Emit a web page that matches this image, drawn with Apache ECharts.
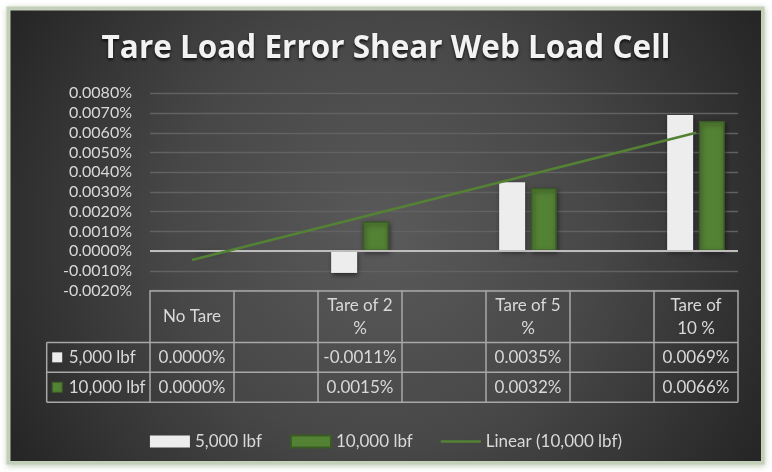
<!DOCTYPE html>
<html><head><meta charset="utf-8">
<script src="https://cdn.jsdelivr.net/npm/echarts@6/dist/echarts.min.js"></script>
<style>html,body{margin:0;padding:0;background:#fff}#c{width:772px;height:472px}</style>
</head><body><div id="c"></div>
<script>
// ---- data ----
const titleText = 'Tare Load Error Shear Web Load Cell';
const categories = ['No Tare', '', 'Tare of 2\n%', '', 'Tare of 5\n%', '', 'Tare of\n10 %'];
const seriesNames = ['5,000 lbf', '10,000 lbf', 'Linear (10,000 lbf)'];
const values5000 = [0, null, -0.0011, null, 0.0035, null, 0.0069];   // percent
const values10000 = [0, null, 0.0015, null, 0.0032, null, 0.0066];  // percent
const trendEnds = [-0.00044, 0.0060];                               // linear trend at first/last category
const yMin = -0.002, yMax = 0.008, yStep = 0.001;

// ---- styles ----
const FONT = 'Lato';
const TXT = '#d9d9d9';
const WHITE = '#ededed';
const GREEN = '#548235';
const GREEN_DARK = '#3a5c24';
const TABLE_LINE = '#a8a8a8';

const fmt = v => (Math.abs(v) < 1e-12 ? 0 : v).toFixed(4) + '%';
const trendData = categories.map((c, i) => i === 0 ? trendEnds[0] : (i === categories.length - 1 ? trendEnds[1] : null));

const chart = echarts.init(document.getElementById('c'), null, {renderer: 'canvas'});

const bgElements = [
  {type: 'rect', z: -100, silent: true,
   shape: {x: 6.5, y: 6.5, width: 758, height: 458},
   style: {fill: '#c3cfb8', shadowBlur: 6, shadowColor: 'rgba(110,140,90,0.45)', shadowOffsetY: 1}},
  {type: 'rect', z: -99, silent: true,
   shape: {x: 10.5, y: 10.5, width: 750.5, height: 450.5},
   style: {fill: {type: 'radial', x: 0.5, y: 0.5, r: 0.95, colorStops: [
     {offset: 0, color: '#5a5a5a'}, {offset: 0.5, color: '#474747'}, {offset: 1, color: '#262626'}]}}}
];

const option = {
  animation: false,
  textStyle: {fontFamily: FONT},
  title: {
    text: titleText, left: 'center', top: 28,
    textStyle: {fontFamily: 'Open Sans', fontSize: 31.5, fontWeight: 'bold', color: '#f2f2f2',
      textShadowColor: 'rgba(0,0,0,0.75)', textShadowBlur: 3, textShadowOffsetY: 2}
  },
  grid: {left: 150, right: 34, top: 93.3, bottom: 181.3, containLabel: false},
  legend: {
    data: [
      {name: seriesNames[0], icon: 'rect'},
      {name: seriesNames[1], icon: 'rect'},
      {name: seriesNames[2], icon: 'path://M0,0H40V2.6H0Z'}
    ],
    left: 'center', top: 428, itemWidth: 40, itemHeight: 12, itemGap: 28,
    textStyle: {color: TXT, fontSize: 17, fontFamily: FONT}
  },
  xAxis: {
    type: 'category', data: categories, boundaryGap: true,
    axisLine: {onZero: false, lineStyle: {color: TABLE_LINE, width: 1.5}},
    axisTick: {show: true, alignWithLabel: false, interval: 0, length: 111.5, lineStyle: {color: TABLE_LINE, width: 1.5}},
    axisLabel: {interval: 0, color: TXT, fontSize: 17, fontFamily: FONT, lineHeight: 23, margin: 26, verticalAlign: 'middle'},
    splitLine: {show: false}
  },
  yAxis: {
    type: 'value', min: yMin, max: yMax, interval: yStep,
    axisLine: {show: false}, axisTick: {show: false},
    axisLabel: {color: TXT, fontSize: 16, fontFamily: FONT, margin: 18, formatter: v => fmt(v)},
    splitLine: {lineStyle: {color: '#626262', width: 1.3}}
  },
  series: [
    {name: seriesNames[0], type: 'bar', data: values5000, barWidth: 26, barGap: '22%',
     itemStyle: {color: WHITE, shadowBlur: 5, shadowColor: 'rgba(0,0,0,0.55)', shadowOffsetY: 2, shadowOffsetX: 1},
     markLine: {silent: true, symbol: 'none', label: {show: false},
       lineStyle: {color: '#bdbdbd', width: 1.8, type: 'solid'}, data: [{yAxis: 0}]}},
    {name: seriesNames[1], type: 'bar', data: values10000, barWidth: 26,
     itemStyle: {color: GREEN, borderColor: GREEN_DARK, borderWidth: 1.5,
       shadowBlur: 5, shadowColor: 'rgba(0,0,0,0.55)', shadowOffsetY: 2, shadowOffsetX: 1}},
    {name: seriesNames[2], type: 'line', data: trendData, connectNulls: true, symbol: 'none',
     z: 5, lineStyle: {color: GREEN, width: 2.6}, itemStyle: {color: GREEN}}
  ],
  graphic: bgElements
};
chart.setOption(option);

function drawTable() {
  const rect = chart.getModel().getComponent('grid', 0).coordinateSystem.getRect();
  const top = rect.y + rect.height;
  const headerH = 51.7, rowH = 29.9;
  const keyLeft = 46.7;
  const right = rect.x + rect.width;
  const els = bgElements.slice();
  const lineStyle = {stroke: TABLE_LINE, lineWidth: 1.5};
  [1, 2, 3].forEach(k => {
    const y = top + headerH + (k - 1) * rowH;
    els.push({type: 'line', z: 10, silent: true, shape: {x1: keyLeft, y1: y, x2: right, y2: y}, style: lineStyle});
  });
  els.push({type: 'line', z: 10, silent: true,
    shape: {x1: keyLeft, y1: top + headerH, x2: keyLeft, y2: top + headerH + 2 * rowH}, style: lineStyle});
  const rows = [
    {name: seriesNames[0], vals: values5000, fill: WHITE, stroke: null},
    {name: seriesNames[1], vals: values10000, fill: GREEN, stroke: GREEN_DARK}
  ];
  rows.forEach((r, ri) => {
    const cy = top + headerH + rowH * (ri + 0.5);
    els.push({type: 'rect', z: 10, silent: true,
      shape: {x: keyLeft + 5.5, y: cy - 5, width: 10, height: 10},
      style: {fill: r.fill, stroke: r.stroke || null, lineWidth: r.stroke ? 1.2 : 0}});
    els.push({type: 'text', z: 10, silent: true, x: keyLeft + 22, y: cy,
      style: {text: r.name, fill: TXT, font: '17px ' + FONT, verticalAlign: 'middle', align: 'left'}});
    r.vals.forEach((v, i) => {
      if (v === null) return;
      const cx = chart.convertToPixel({xAxisIndex: 0}, i);
      els.push({type: 'text', z: 10, silent: true, x: cx, y: cy,
        style: {text: fmt(v), fill: TXT, font: '17px ' + FONT, verticalAlign: 'middle', align: 'center'}});
    });
  });
  chart.setOption({graphic: els}, {replaceMerge: ['graphic']});
}
drawTable();
</script></body></html>
